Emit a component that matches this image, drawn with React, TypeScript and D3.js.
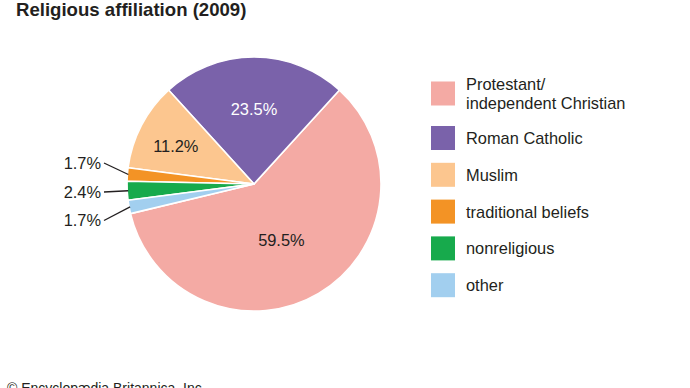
import React from "react";
import * as d3 from "d3";

const title = "Religious affiliation (2009)";
const credit = "© Encyclopædia Britannica, Inc.";
const categories = [
  "Protestant/independent Christian",
  "Roman Catholic",
  "Muslim",
  "traditional beliefs",
  "nonreligious",
  "other",
];
const values = [59.5, 23.5, 11.2, 1.7, 2.4, 1.7];
// clockwise drawing order, starting with Roman Catholic centred at the top
const sliceOrder = [
  "Roman Catholic",
  "Protestant/independent Christian",
  "other",
  "nonreligious",
  "traditional beliefs",
  "Muslim",
];

const palette: Record<string, string> = {
  "Protestant/independent Christian": "#f4aaa4",
  "Roman Catholic": "#7a62aa",
  Muslim: "#fcc68f",
  "traditional beliefs": "#f39325",
  nonreligious: "#17aa4c",
  other: "#a2cfef",
};

const W = 690;
const H = 388;
const FONT = "'Liberation Sans', Arial, Helvetica, sans-serif";
const INK = "#231f20";

export default function App() {
  const cx = 254;
  const cy = 184;
  const r = 127;
  const data = categories.map((name, i) => ({ name, value: values[i] }));
  const catholicShare = values[categories.indexOf("Roman Catholic")] / d3.sum(values);
  const start = -Math.PI * catholicShare;
  const pie = d3
    .pie<{ name: string; value: number }>()
    .value((d) => d.value)
    .sort((a, b) => sliceOrder.indexOf(a.name) - sliceOrder.indexOf(b.name))
    .startAngle(start)
    .endAngle(start + 2 * Math.PI);
  const arcs = pie(data);
  const arc = d3.arc<d3.PieArcDatum<{ name: string; value: number }>>().innerRadius(0).outerRadius(r);

  const polar = (angDeg: number, dist: number): [number, number] => {
    const a = (angDeg * Math.PI) / 180;
    return [cx + dist * Math.sin(a), cy - dist * Math.cos(a)];
  };

  // inside label placement (angle in degrees clockwise from top, distance in px)
  const insideLabels: Record<string, { ang?: number; dist: number; color: string }> = {
    "Protestant/independent Christian": { ang: 153.8, dist: 62, color: INK },
    "Roman Catholic": { dist: 75, color: "#ffffff" },
    Muslim: { ang: 296, dist: 87, color: INK },
  };
  // outside labels: vertical offset from centre
  const outsideLabels: Record<string, number> = {
    "traditional beliefs": -21,
    nonreligious: 8,
    other: 36.5,
  };

  const fmt = (v: number) => `${v.toFixed(1)}%`;
  const fs = 16.4;

  const legendX = 431;
  const sw = 24;
  const legendCenters = categories.map((_, i) => (i === 0 ? 93.5 : 138 + 36.8 * (i - 1)));

  return (
    <div style={{ position: "fixed", left: 0, top: 0 }}>
      <svg width={W} height={H} style={{ display: "block", background: "#fff" }} fontFamily={FONT}>
        <text x={16} y={15.5} fontSize={18.6} fontWeight="bold" fill={INK}>
          {title}
        </text>

        <g>
          {arcs.map((a) => (
            <path
              key={a.data.name}
              d={(() => {
                const p = arc(a) || "";
                return p;
              })()}
              transform={`translate(${cx},${cy})`}
              fill={palette[a.data.name]}
              stroke="#ffffff"
              strokeWidth={1.6}
              strokeLinejoin="round"
            />
          ))}
        </g>

        {arcs.map((a) => {
          const lab = insideLabels[a.data.name];
          if (!lab) return null;
          const mid = (((a.startAngle + a.endAngle) / 2) * 180) / Math.PI;
          const [x, y] = polar(lab.ang ?? mid, lab.dist);
          return (
            <text
              key={"in" + a.data.name}
              x={x}
              y={y}
              dy="0.36em"
              textAnchor="middle"
              fontSize={fs}
              fill={lab.color}
            >
              {fmt(a.data.value)}
            </text>
          );
        })}

        {arcs.map((a) => {
          const off = outsideLabels[a.data.name];
          if (off === undefined) return null;
          const mid = (((a.startAngle + a.endAngle) / 2) * 180) / Math.PI;
          const [ex, ey] = polar(mid, r - 1);
          const ly = cy + off;
          const tx = cx - r - 26;
          return (
            <g key={"out" + a.data.name}>
              <line x1={tx + 3} y1={ly} x2={ex} y2={ey} stroke={INK} strokeWidth={1.3} />
              <text x={tx} y={ly} dy="0.36em" textAnchor="end" fontSize={fs} fill={INK}>
                {fmt(a.data.value)}
              </text>
            </g>
          );
        })}

        <g>
          {categories.map((name, i) => {
            const c = legendCenters[i];
            const parts = name.includes("/")
              ? [name.slice(0, name.indexOf("/") + 1), name.slice(name.indexOf("/") + 1)]
              : [name];
            const lh = 18.7;
            return (
              <g key={"lg" + name}>
                <rect x={legendX} y={c - sw / 2} width={sw} height={sw} fill={palette[name]} />
                {parts.map((p, j) => (
                  <text
                    key={j}
                    x={466}
                    y={c + (j - (parts.length - 1) / 2) * lh}
                    dy="0.36em"
                    fontSize={fs}
                    fill={INK}
                  >
                    {p}
                  </text>
                ))}
              </g>
            );
          })}
        </g>

        <text x={7} y={392.7} fontSize={14} fill={INK}>
          {credit}
        </text>
      </svg>
    </div>
  );
}
